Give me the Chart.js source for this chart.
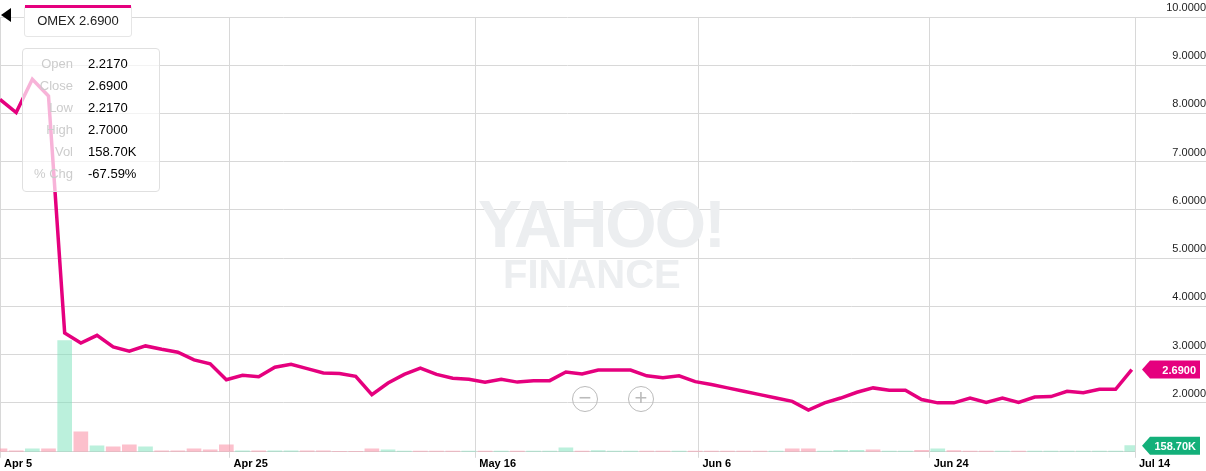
<!DOCTYPE html>
<html>
<head>
<meta charset="utf-8">
<script src="https://cdn.jsdelivr.net/npm/chart.js@4"></script>
<style>
  body { margin: 0; background: #fff; font-family: Arial, "Liberation Sans", sans-serif; }
  #wrap { position: relative; width: 1206px; height: 471px; }
  .wm { position: absolute; color: #eceef0; font-weight: bold; text-align: center; }
  .legend { position: absolute; left: 24px; top: 5px; width: 106px; height: 30px; border: 1px solid #e6e6e6; border-radius: 3px; background: #fff; font-size: 13px; line-height: 30px; text-align: center; color: #222; }
  .legend:before { content: ""; position: absolute; left: 0; right: 0; top: -1px; height: 3px; background: #e5007e; }
  .tip { position: absolute; left: 22px; top: 48px; width: 136px; height: 142px; border: 1px solid #e0e0e0; border-radius: 4px; background: rgba(255,255,255,0.7); font-size: 13px; }
  .tip div { height: 22px; line-height: 22px; }
  .tip span { display: inline-block; width: 50px; text-align: right; color: #ccc; margin-right: 15px; }
  .arrow { position: absolute; left: 1px; top: 8px; width: 0; height: 0; border-top: 7px solid transparent; border-bottom: 7px solid transparent; border-right: 10px solid #000; }
  .zb { position: absolute; top: 386px; width: 24px; height: 24px; border: 1px solid #bbb; border-radius: 50%; color: #bbb; font-size: 22px; line-height: 22px; text-align: center; }
</style>
</head>
<body>
<div id="wrap">
  <div class="wm" style="left:478px; top:186px; font-size:66px; letter-spacing:-2px;">YAHOO!</div>
  <div class="wm" style="left:503px; top:252px; font-size:40px;">FINANCE</div>
  <canvas id="myChart" width="1206" height="471"></canvas>
  <div class="arrow"></div>
  <div class="legend">OMEX 2.6900</div>
  <div class="tip">
    <div style="margin-top:4px"><span>Open</span>2.2170</div>
    <div><span>Close</span>2.6900</div>
    <div><span>Low</span>2.2170</div>
    <div><span>High</span>2.7000</div>
    <div><span>Vol</span>158.70K</div>
    <div><span>% Chg</span>-67.59%</div>
  </div>
  <div class="zb" style="left:572px;">&minus;</div>
  <div class="zb" style="left:628px;">+</div>
</div>
<script>
// price closes, one per trading day
const closes = [8.29, 8.02, 8.71, 8.36, 3.45, 3.24, 3.40, 3.16, 3.07, 3.18, 3.11, 3.05, 2.89, 2.81, 2.48,
  2.57, 2.54, 2.74, 2.80, 2.71, 2.62, 2.61, 2.55, 2.17, 2.41, 2.59, 2.72, 2.59, 2.51, 2.49,
  2.43, 2.49, 2.43, 2.46, 2.46, 2.64, 2.60, 2.68, 2.68, 2.68, 2.56, 2.52, 2.56, 2.44, 2.38,
  2.31, 2.24, 2.17, 2.10, 2.03, 1.85, 2.00, 2.10, 2.22, 2.31, 2.26, 2.26, 2.07, 2.00, 2.00,
  2.10, 2.01, 2.10, 2.01, 2.12, 2.13, 2.24, 2.21, 2.28, 2.28, 2.69];
// volume in thousands
const volumes = [78, 26, 78, 78, 2890, 520, 156, 130, 182, 130, 26, 26, 78, 52, 182,
  26, 26, 26, 26, 26, 26, 10, 10, 78, 52, 20, 20, 20, 20, 20,
  20, 20, 20, 20, 20, 104, 20, 30, 20, 20, 20, 20, 20, 20, 20,
  20, 20, 20, 20, 78, 78, 20, 40, 40, 52, 20, 20, 40, 78, 30,
  20, 20, 20, 20, 20, 20, 20, 20, 20, 20, 158.7];
const volUp = [0, 0, 1, 0, 1, 0, 1, 0, 0, 1, 0, 0, 0, 0, 0,
  1, 0, 1, 1, 0, 0, 0, 0, 0, 1, 1, 0, 0, 0, 1,
  0, 1, 0, 1, 1, 1, 0, 1, 1, 1, 0, 0, 1, 0, 0,
  0, 0, 0, 1, 0, 0, 1, 1, 1, 0, 1, 1, 0, 1, 0,
  0, 0, 1, 0, 1, 1, 1, 1, 1, 1, 1];
const dateTicks = [0, 14.2, 29.4, 43.2, 57.5, 70.2];
const dateLabels = ['Apr 5', 'Apr 25', 'May 16', 'Jun 6', 'Jun 24', 'Jul 14'];
const priceTicks = [2, 3, 4, 5, 6, 7, 8, 9, 10];

const PINK = '#e5007e';
const pts = closes.map((v, i) => ({ x: i, y: v }));
const vols = volumes.map((v, i) => ({ x: i, y: v }));

const tagPlugin = {
  id: 'tags',
  afterDraw(chart) {
    const ctx = chart.ctx;
    const yS = chart.scales.y, vS = chart.scales.vol;
    function tag(y, text, color) {
      const x = chart.chartArea.right + 7;
      ctx.save();
      ctx.fillStyle = color;
      ctx.beginPath();
      ctx.moveTo(x, y);
      ctx.lineTo(x + 8, y - 9);
      ctx.lineTo(1200, y - 9);
      ctx.lineTo(1200, y + 9);
      ctx.lineTo(x + 8, y + 9);
      ctx.closePath();
      ctx.fill();
      ctx.fillStyle = '#fff';
      ctx.font = 'bold 11px Arial, "Liberation Sans"';
      ctx.textAlign = 'right';
      ctx.textBaseline = 'middle';
      ctx.fillText(text, 1196, y + 1);
      ctx.restore();
    }
    tag(yS.getPixelForValue(closes[closes.length - 1]), '2.6900', PINK);
    tag(Math.min(vS.getPixelForValue(volumes[volumes.length - 1]), chart.chartArea.bottom - 4), '158.70K', '#13b07a');
  }
};

new Chart(document.getElementById('myChart'), {
  data: {
    datasets: [
      {
        type: 'line', data: pts, borderColor: PINK, borderWidth: 3.5,
        pointRadius: 0, tension: 0, yAxisID: 'y', order: 0
      },
      {
        type: 'bar', data: vols, yAxisID: 'vol', barThickness: 14, order: 1,
        backgroundColor: volUp.map(u => u ? 'rgba(120,225,185,0.5)' : 'rgba(250,150,170,0.6)')
      }
    ]
  },
  options: {
    responsive: false,
    animation: false,
    layout: { padding: { top: 17 } },
    plugins: { legend: { display: false }, tooltip: { enabled: false } },
    scales: {
      x: {
        type: 'linear', min: 0, max: 70.2, offset: false,
        afterBuildTicks: s => { s.ticks = dateTicks.map(v => ({ value: v })); },
        grid: { color: '#d8d8d8', drawTicks: true, tickLength: 6, offset: false },
        border: { color: '#d8d8d8' },
        ticks: {
          autoSkip: false, maxRotation: 0, align: 'start', labelOffset: 4, padding: 0,
          color: '#000', font: { size: 11, weight: 'bold', family: 'Arial, "Liberation Sans"' },
          callback: (v, i) => dateLabels[i]
        }
      },
      y: {
        position: 'right', min: 0.985, max: 10,
        afterBuildTicks: s => { s.ticks = priceTicks.map(v => ({ value: v })); },
        afterFit: s => { s.width = 71; },
        grid: { color: '#d8d8d8', tickLength: 71 },
        border: { display: false },
        ticks: {
          crossAlign: 'far', labelOffset: -9, color: '#222',
          font: { size: 11, family: 'Arial, "Liberation Sans"' },
          callback: v => v.toFixed(4)
        }
      },
      vol: { display: false, min: 0, max: 11300 }
    }
  },
  plugins: [tagPlugin]
});
</script>
</body>
</html>
